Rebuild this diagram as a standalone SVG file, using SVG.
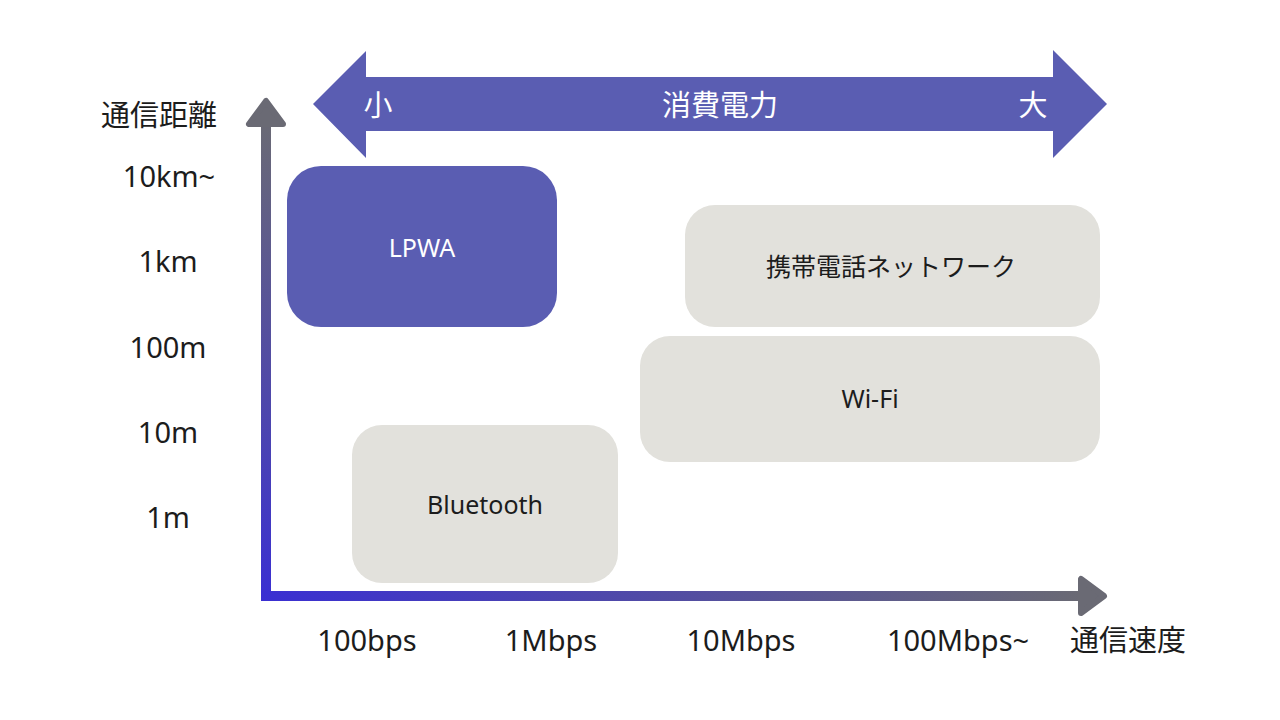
<svg xmlns="http://www.w3.org/2000/svg" width="1280" height="720" viewBox="0 0 1280 720">
  <style>
    .lbl { font-family: "Noto Sans", "Noto Sans CJK JP", sans-serif; font-size: 29px; fill: #1c1c1c; text-anchor: middle; dominant-baseline: central; }
    .box-gray { fill: #e2e1dc; }
    .box-blue { fill: #5a5db2; }
    .boxtxt { font-family: "Noto Sans", "Noto Sans CJK JP", sans-serif; font-size: 25px; text-anchor: middle; dominant-baseline: central; }
    .toptxt { font-family: "Noto Sans CJK JP", sans-serif; font-size: 29px; fill: #ffffff; text-anchor: middle; dominant-baseline: central; }
    .dark { fill: #1c1c1c; }
    .white { fill: #ffffff; }
    .head { fill: #6a6a74; stroke: #6a6a74; stroke-width: 6; stroke-linejoin: round; }
  </style>
  <defs>
    <linearGradient id="gv" gradientUnits="userSpaceOnUse" x1="0" y1="601" x2="0" y2="120">
      <stop offset="0" stop-color="#3a2fd2"/>
      <stop offset="1" stop-color="#6a6a74"/>
    </linearGradient>
    <linearGradient id="gh" gradientUnits="userSpaceOnUse" x1="261" y1="0" x2="1082" y2="0">
      <stop offset="0" stop-color="#3a2fd2"/>
      <stop offset="1" stop-color="#6a6a74"/>
    </linearGradient>
  </defs>
  <rect width="1280" height="720" fill="#ffffff"/>

  <g id="power-arrow">
    <polygon points="313,104 366,51 366,77 1053,77 1053,50 1107,104 1053,158 1053,131 366,131 366,158" fill="#5a5db2"/>
    <text class="toptxt" x="378" y="103">小</text>
    <text class="toptxt" x="720" y="103">消費電力</text>
    <text class="toptxt" x="1033" y="103">大</text>
  </g>

  <g id="connectors">
    <rect x="261" y="120" width="10" height="481" fill="url(#gv)"/>
    <rect x="261" y="591" width="821" height="10" fill="url(#gh)"/>
    <polygon class="head" points="266,101 249,124 283,124"/>
    <polygon class="head" points="1104,596 1081,579 1081,613"/>
  </g>

  <g id="axis-labels">
    <text class="lbl" x="159" y="114">通信距離</text>
    <text class="lbl" x="169" y="175">10km~</text>
    <text class="lbl" x="168" y="260">1km</text>
    <text class="lbl" x="168" y="346">100m</text>
    <text class="lbl" x="168" y="431">10m</text>
    <text class="lbl" x="168" y="516">1m</text>
    <text class="lbl" x="367" y="639">100bps</text>
    <text class="lbl" x="551" y="639">1Mbps</text>
    <text class="lbl" x="741" y="639">10Mbps</text>
    <text class="lbl" x="958" y="639">100Mbps~</text>
    <text class="lbl" x="1128" y="639">通信速度</text>
  </g>

  <g id="lpwa">
    <rect class="box-blue" x="287" y="166" width="270" height="161" rx="34"/>
    <text class="boxtxt white" x="422" y="247">LPWA</text>
  </g>
  <g id="cellular">
    <rect class="box-gray" x="685" y="205" width="415" height="122" rx="30"/>
    <text class="boxtxt dark" x="891" y="266">携帯電話ネットワーク</text>
  </g>
  <g id="wifi">
    <rect class="box-gray" x="640" y="336" width="460" height="126" rx="30"/>
    <text class="boxtxt dark" x="870" y="398">Wi-Fi</text>
  </g>
  <g id="bluetooth">
    <rect class="box-gray" x="352" y="425" width="266" height="158" rx="30"/>
    <text class="boxtxt dark" x="485" y="504">Bluetooth</text>
  </g>
</svg>
